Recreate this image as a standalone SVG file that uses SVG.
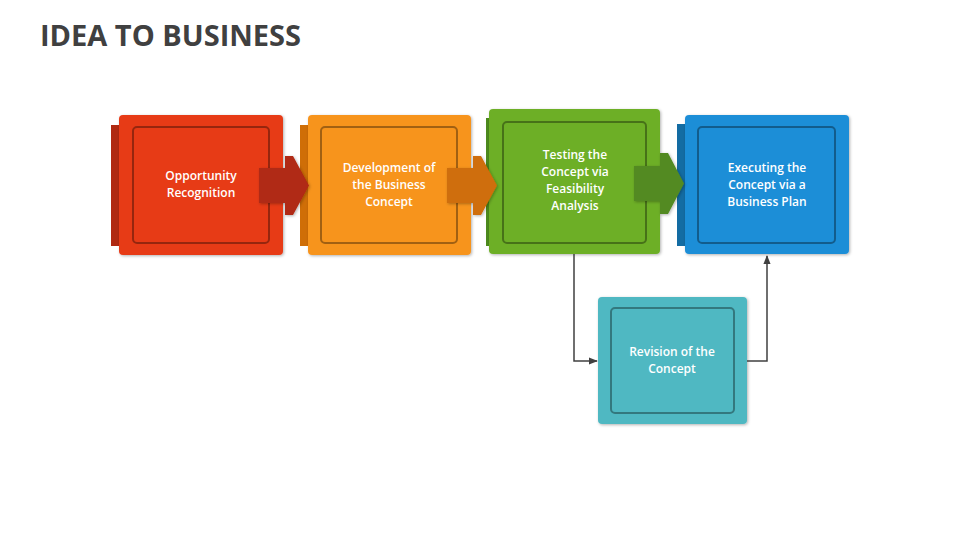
<svg xmlns="http://www.w3.org/2000/svg" width="960" height="540" viewBox="0 0 960 540">
<defs>
<filter id="sh" x="-20%" y="-20%" width="140%" height="140%"><feDropShadow dx="1" dy="1" stdDeviation="1.5" flood-opacity="0.3"/></filter>
<marker id="ar" viewBox="0 0 10 10" refX="9" refY="5" markerWidth="6" markerHeight="6" orient="auto"><path d="M0,1 L10,5 L0,9 z" fill="#404040"/></marker>
</defs>
<style>
.t{font-family:"Open Sans","Liberation Sans",sans-serif;font-weight:600;font-size:12px;fill:#fff;text-anchor:middle}
.in{fill:none;stroke-width:2;stroke-opacity:0.35;stroke:#000}
.c{fill:none;stroke:#404040;stroke-width:1.5}
</style>
<rect width="960" height="540" fill="#fff"/>
<text x="40" y="46" font-family="Open Sans,Liberation Sans,sans-serif" font-weight="700" font-size="29" fill="#404040">IDEA TO BUSINESS</text>
<g id="n1">
<rect x="111" y="125" width="30" height="121" fill="#b02a12"/>
<rect x="119" y="115" width="164" height="140" rx="4" fill="#e73b16" filter="url(#sh)"/>
<rect x="133" y="127" width="136" height="116" rx="4" class="in"/>
<text class="t" x="201" y="180">Opportunity</text><text class="t" x="201" y="197">Recognition</text>
</g>
<g id="n2">
<rect x="300" y="125" width="30" height="121" fill="#cf6e07"/>
<rect x="308" y="115" width="163" height="140" rx="4" fill="#f7941f" filter="url(#sh)"/>
<rect x="321" y="127" width="136" height="116" rx="4" class="in"/>
<text class="t" x="389" y="172">Development of</text><text class="t" x="389" y="189">the Business</text><text class="t" x="389" y="206">Concept</text>
</g>
<g id="n3">
<rect x="486" y="118" width="30" height="128" fill="#4d8a1d"/>
<rect x="489" y="109" width="171" height="145" rx="4" fill="#6daf27" filter="url(#sh)"/>
<rect x="503" y="122" width="143" height="121" rx="4" class="in"/>
<text class="t" x="575" y="159">Testing the</text><text class="t" x="575" y="176">Concept via</text><text class="t" x="575" y="193">Feasibility</text><text class="t" x="575" y="210">Analysis</text>
</g>
<g id="n4">
<rect x="677" y="124" width="30" height="122" fill="#136ca3"/>
<rect x="685" y="115" width="164" height="139" rx="4" fill="#1b8ed7" filter="url(#sh)"/>
<rect x="698" y="127" width="137" height="116" rx="4" class="in"/>
<text class="t" x="767" y="172">Executing the</text><text class="t" x="767" y="189">Concept via a</text><text class="t" x="767" y="206">Business Plan</text>
</g>
<g id="n5">
<rect x="598" y="297" width="149" height="127" rx="4" fill="#4fb8c2" filter="url(#sh)"/>
<rect x="611" y="308" width="123" height="105" rx="4" class="in"/>
<text class="t" x="672" y="356">Revision of the</text><text class="t" x="672" y="373">Concept</text>
</g>
<g id="connectors">
<path d="M259,168 H285 V156 H293 L309,185.5 L293,215 H285 V203 H259 Z" fill="#b02a12" filter="url(#sh)"/>
<path d="M447,168 H473 V156 H481 L497,185.5 L481,215 H473 V203 H447 Z" fill="#cf6e07" filter="url(#sh)"/>
<path d="M634,166 H660 V153 H668 L684,183.5 L668,214 H660 V201 H634 Z" fill="#528a20" filter="url(#sh)"/>
<path class="c" d="M574,254 V361 H597" marker-end="url(#ar)"/>
<path class="c" d="M747,361 H767 V256" marker-end="url(#ar)"/>
</g>
</svg>
